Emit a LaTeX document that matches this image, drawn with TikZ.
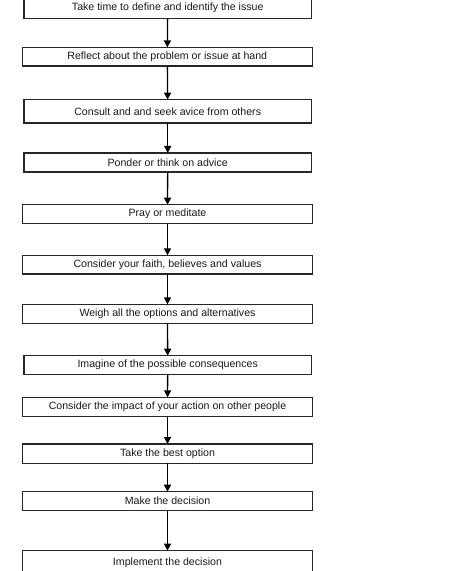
\documentclass[tikz,border=0pt]{standalone}
\usepackage{fontspec}
\setmainfont{Liberation Sans}
\usetikzlibrary{arrows.meta}
\begin{document}
\begin{tikzpicture}[x=1pt,y=-1pt,
  stepbox/.style={draw=black!85, line width=1.3pt, inner sep=0pt, outer sep=0pt,
    font=\fontsize{10.6}{12}\selectfont, text=black!90},
  wide/.style={minimum width=289.7pt},
  narrow/.style={minimum width=287.4pt},
  flow/.style={line width=1.3pt, draw=black, -{Triangle[width=7pt,length=7pt]}}]
\useasboundingbox (0,0) rectangle (474,571);
\node[stepbox, narrow, minimum height=21.7pt] (b1) at (167.7,7.5) {Take time to define and identify the issue};
\node[stepbox, wide, minimum height=18.7pt] (b2) at (167.3,56.7) {Reflect about the problem or issue at hand};
\node[stepbox, narrow, minimum height=23.4pt] (b3) at (167.7,111.3) {Consult and and seek avice from others};
\node[stepbox, narrow, minimum height=19.1pt] (b4) at (167.7,162.5) {Ponder or think on advice};
\node[stepbox, wide, minimum height=19pt] (b5) at (167.5,214.2) {Pray or meditate};
\node[stepbox, wide, minimum height=18.7pt] (b6) at (167.5,264.7) {Consider your faith, believes and values};
\node[stepbox, wide, minimum height=19.3pt] (b7) at (167.5,314) {Weigh all the options and alternatives};
\node[stepbox, narrow, minimum height=19pt] (b8) at (167.7,365.2) {Imagine of the possible consequences};
\node[stepbox, wide, minimum height=19.3pt] (b9) at (167.5,407) {Consider the impact of your action on other people};
\node[stepbox, wide, minimum height=19.4pt] (b10) at (167.5,453.7) {Take the best option};
\node[stepbox, wide, minimum height=19pt] (b11) at (167.5,501.2) {Make the decision};
\node[stepbox, wide, minimum height=23.7pt] (b12) at (167.5,562.5) {Implement the decision};
\draw[flow] (b1) -- (b2);
\draw[flow] (b2) -- (b3);
\draw[flow] (b3) -- (b4);
\draw[flow] (b4) -- (b5);
\draw[flow] (b5) -- (b6);
\draw[flow] (b6) -- (b7);
\draw[flow] (b7) -- (b8);
\draw[flow] (b8) -- (b9);
\draw[flow] (b9) -- (b10);
\draw[flow] (b10) -- (b11);
\draw[flow] (b11) -- (b12);
\end{tikzpicture}
\end{document}
